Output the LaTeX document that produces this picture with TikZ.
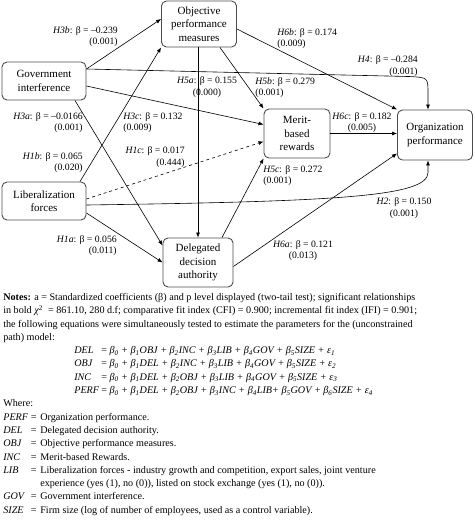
\documentclass[tikz,border=0pt]{standalone}
\usepackage{fontspec}
\setmainfont{Liberation Serif}
\usetikzlibrary{arrows.meta,calc}
\newcommand{\bsub}[1]{β\textsubscript{#1}}
\newcommand{\eqrow}[2]{\hspace*{71pt}\makebox[27pt][l]{\itshape #1}= {\itshape #2}}
\newcommand{\defrow}[2]{\makebox[27.5pt][l]{\itshape #1}\makebox[9.5pt][l]{=}#2}
\begin{document}
\begin{tikzpicture}[x=1pt, y=-1pt, >={Latex[length=5pt,width=4pt]}, line width=0.6pt,
  var/.style={draw=black!70, line width=0.9pt, rounded corners=5pt, align=center,
    inner sep=0pt, font=\fontsize{11}{13.5}\selectfont},
  coef/.style={inner sep=0pt, font=\fontsize{9.7}{11.5}\selectfont},
  notes/.style={inner sep=0pt, align=left, font=\fontsize{10.15}{13.3}\selectfont}]
  \useasboundingbox (0,0) rectangle (474,522);
  % variables
  \node[var, minimum width=75pt, minimum height=46pt] (obj) at (199,24) {Objective\\performance\\measures};
  \node[var, minimum width=84pt, minimum height=38pt] (gov) at (44,81) {Government\\interference};
  \node[var, minimum width=84pt, minimum height=38pt] (lib) at (44,201) {Liberalization\\forces};
  \node[var, minimum width=70pt, minimum height=49pt] (del) at (198,262.5) {Delegated\\decision\\authority};
  \node[var, minimum width=66pt, minimum height=49pt] (merit) at (297,133.5) {Merit-\\based\\rewards};
  \node[var, minimum width=75pt, minimum height=50pt] (perf) at (435,135) {Organization\\performance};
  % paths
  \draw[->] ($(gov.east)+(0,-12)$) -- ($(obj.west)+(0,-5)$);
  \draw[->] ($(gov.east)+(0,-12)$) -- ($(perf.north)+(-25,-33)$)
    .. controls ($(perf.north)+(-7,-32)$) .. ($(perf.north)+(-7,-16)$) -- ($(perf.north)+(-7,0)$);
  \draw[->] ($(gov.east)+(0,5)$) -- ($(merit.west)+(0,-9)$);
  \draw[->] ($(gov.south)+(31,0)$) -- ($(del.west)+(0,-17)$);
  \draw[->] ($(lib.north)+(36,0)$) -- (obj.south west);
  \draw[->, dashed] ($(lib.east)+(0,-2)$) -- ($(merit.west)+(0,8)$);
  \draw[->] ($(lib.east)+(0,4)$) .. controls ($(perf.south)+(-95,41)$) and ($(perf.south)+(-7,36)$)
    .. ($(perf.south)+(-7,12)$) -- ($(perf.south)+(-7,0)$);
  \draw[->] ($(lib.east)+(0,12)$) -- (del.west);
  \draw[->] (obj.south -| del.north) -- (del.north);
  \draw[->] ($(obj.south)+(21,0)$) -- (merit.north west);
  \draw[->] ($(obj.east)+(0,5)$) -- (perf.north west);
  \draw[->] (merit.east) -- (merit.east -| perf.west);
  \draw[->] ($(del.north)+(24,0)$) -- (merit.south west);
  \draw[->] ($(del.east)+(0,4)$) -- ($(perf.south west)+(0,-7)$);
  % coefficients
  \node[coef, anchor=east, align=right] (h3b) at (118,36.5) {\textit{H3b}: β = –0.239\\(0.001)};
  \node[coef, align=center] (h5a) at (207,87) {\textit{H5a}: β = 0.155\\(0.000)};
  \node[coef, anchor=east, align=right] (h3a) at (83,122.5) {\textit{H3a}: β = –0.0166\\(0.001)};
  \node[coef, anchor=west, align=left] (h3c) at (123,122.5) {\textit{H3c}: β = 0.132\\(0.009)};
  \node[coef, anchor=east, align=right] (h1b) at (83,162.5) {\textit{H1b}: β = 0.065\\(0.020)};
  \node[coef, anchor=east, align=right] (h1c) at (185,157) {\textit{H1c}: β = 0.017\\(0.444)};
  \node[coef, anchor=east, align=right] (h1a) at (117,245.5) {\textit{H1a}: β = 0.056\\(0.011)};
  \node[coef, anchor=west, align=left] (h5b) at (255,87.5) {\textit{H5b}: β = 0.279\\(0.001)};
  \node[coef, anchor=west, align=left] (h6b) at (277,38.5) {\textit{H6b}: β = 0.174\\(0.009)};
  \node[coef, anchor=east, align=right] (h4) at (418,66) {\textit{H4}: β = –0.284\\(0.001)};
  \node[coef, align=center] (h6c) at (362,122.5) {\textit{H6c}: β = 0.182\\(0.005)};
  \node[coef, anchor=west, align=left] (h5c) at (263,175.5) {\textit{H5c}: β = 0.272\\(0.001)};
  \node[coef, align=center] (h2) at (404,208) {\textit{H2}: β = 0.150\\(0.001)};
  \node[coef, align=center] (h6a) at (303,250.5) {\textit{H6a}: β = 0.121\\(0.013)};
  % notes
  \node[notes, anchor=north west] (note) at (3,293) {%
    \textbf{Notes:} a = Standardized coefficients (β) and p level displayed (two-tail test); significant relationships\\
    in bold \textit{χ}\textsuperscript{2}\ \ = 861.10, 280 d.f; comparative fit index (CFI) = 0.900; incremental fit index (IFI) = 0.901;\\
    the following equations were simultaneously tested to estimate the parameters for the (unconstrained\\
    path) model:\\
    \eqrow{DEL}{\bsub{0} + \bsub{1}OBJ + \bsub{2}INC + \bsub{3}LIB + \bsub{4}GOV + \bsub{5}SIZE + ε\textsubscript{1}}\\
    \eqrow{OBJ}{\bsub{0} + \bsub{1}DEL + \bsub{2}INC + \bsub{3}LIB + \bsub{4}GOV + \bsub{5}SIZE + ε\textsubscript{2}}\\
    \eqrow{INC}{\bsub{0} + \bsub{1}DEL + \bsub{2}OBJ + \bsub{3}LIB + \bsub{4}GOV + \bsub{5}SIZE + ε\textsubscript{3}}\\
    \eqrow{PERF}{\bsub{0} + \bsub{1}DEL + \bsub{2}OBJ + \bsub{3}INC + \bsub{4}LIB+ \bsub{5}GOV + \bsub{6}SIZE + ε\textsubscript{4}}\\
    Where:\\
    \defrow{PERF}{Organization performance.}\\
    \defrow{DEL}{Delegated decision authority.}\\
    \defrow{OBJ}{Objective performance measures.}\\
    \defrow{INC}{Merit-based Rewards.}\\
    \defrow{LIB}{Liberalization forces - industry growth and competition, export sales, joint venture}\\
    \hspace*{37pt}experience (yes (1), no (0)), listed on stock exchange (yes (1), no (0)).\\
    \defrow{GOV}{Government interference.}\\
    \defrow{SIZE}{Firm size (log of number of employees, used as a control variable).}};
\end{tikzpicture}
\end{document}
